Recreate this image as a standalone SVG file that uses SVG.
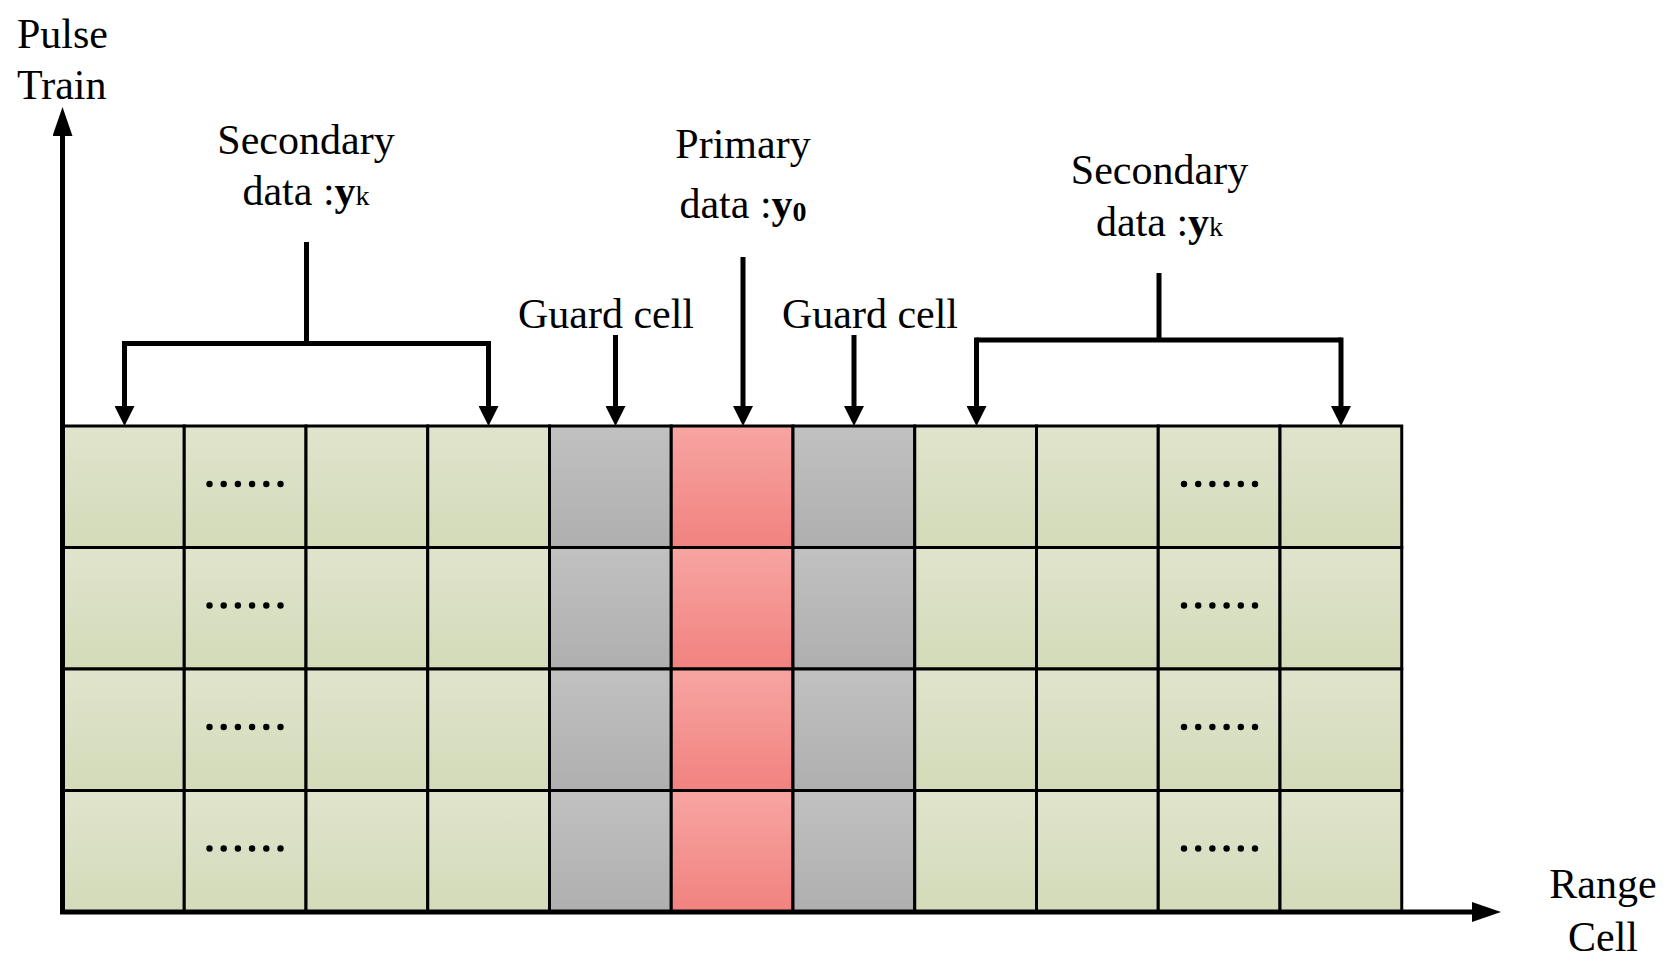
<svg xmlns="http://www.w3.org/2000/svg" width="1669" height="966" viewBox="0 0 1669 966">
<style>
.t{font-family:"Liberation Serif","Times New Roman",serif;font-size:42px;fill:#000}
.m{text-anchor:middle}
.g{fill:url(#gG)}
.s{fill:url(#gS)}
.p{fill:url(#gP)}
.cell{stroke:#000;stroke-width:3}
.ln{fill:none;stroke:#000;stroke-width:5}
.dot{fill:#000}
</style>
<defs>
<linearGradient id="gG" x1="0" y1="0" x2="0" y2="1"><stop offset="0" stop-color="#e0e4cc"/><stop offset="1" stop-color="#d3dbb9"/></linearGradient>
<linearGradient id="gS" x1="0" y1="0" x2="0" y2="1"><stop offset="0" stop-color="#c1c1c1"/><stop offset="1" stop-color="#afafaf"/></linearGradient>
<linearGradient id="gP" x1="0" y1="0" x2="0" y2="1"><stop offset="0" stop-color="#f7a5a2"/><stop offset="1" stop-color="#f1827f"/></linearGradient>
<marker id="ah" viewBox="0 0 20 20" refX="5" refY="10" markerWidth="20" markerHeight="20" markerUnits="userSpaceOnUse" orient="auto"><path d="M0,0 L20,10 L0,20 z" fill="#000"/></marker>
<marker id="ax" viewBox="0 0 29 20" refX="6" refY="10" markerWidth="29" markerHeight="20" markerUnits="userSpaceOnUse" orient="auto"><path d="M0,0 L29,10 L0,20 z" fill="#000"/></marker>
</defs>
<rect width="1669" height="966" fill="#fff"/>
<g id="grid">
<g id="col0"><rect class="cell g" x="62.5" y="426" width="121.75" height="121.5"/><rect class="cell g" x="62.5" y="547.5" width="121.75" height="121.5"/><rect class="cell g" x="62.5" y="669" width="121.75" height="121.5"/><rect class="cell g" x="62.5" y="790.5" width="121.75" height="121.5"/></g>
<g id="col1"><rect class="cell g" x="184.25" y="426" width="121.75" height="121.5"/><rect class="cell g" x="184.25" y="547.5" width="121.75" height="121.5"/><rect class="cell g" x="184.25" y="669" width="121.75" height="121.5"/><rect class="cell g" x="184.25" y="790.5" width="121.75" height="121.5"/></g>
<g id="col2"><rect class="cell g" x="306" y="426" width="121.75" height="121.5"/><rect class="cell g" x="306" y="547.5" width="121.75" height="121.5"/><rect class="cell g" x="306" y="669" width="121.75" height="121.5"/><rect class="cell g" x="306" y="790.5" width="121.75" height="121.5"/></g>
<g id="col3"><rect class="cell g" x="427.75" y="426" width="121.75" height="121.5"/><rect class="cell g" x="427.75" y="547.5" width="121.75" height="121.5"/><rect class="cell g" x="427.75" y="669" width="121.75" height="121.5"/><rect class="cell g" x="427.75" y="790.5" width="121.75" height="121.5"/></g>
<g id="col4"><rect class="cell s" x="549.5" y="426" width="121.75" height="121.5"/><rect class="cell s" x="549.5" y="547.5" width="121.75" height="121.5"/><rect class="cell s" x="549.5" y="669" width="121.75" height="121.5"/><rect class="cell s" x="549.5" y="790.5" width="121.75" height="121.5"/></g>
<g id="col5"><rect class="cell p" x="671.25" y="426" width="121.75" height="121.5"/><rect class="cell p" x="671.25" y="547.5" width="121.75" height="121.5"/><rect class="cell p" x="671.25" y="669" width="121.75" height="121.5"/><rect class="cell p" x="671.25" y="790.5" width="121.75" height="121.5"/></g>
<g id="col6"><rect class="cell s" x="793" y="426" width="121.75" height="121.5"/><rect class="cell s" x="793" y="547.5" width="121.75" height="121.5"/><rect class="cell s" x="793" y="669" width="121.75" height="121.5"/><rect class="cell s" x="793" y="790.5" width="121.75" height="121.5"/></g>
<g id="col7"><rect class="cell g" x="914.75" y="426" width="121.75" height="121.5"/><rect class="cell g" x="914.75" y="547.5" width="121.75" height="121.5"/><rect class="cell g" x="914.75" y="669" width="121.75" height="121.5"/><rect class="cell g" x="914.75" y="790.5" width="121.75" height="121.5"/></g>
<g id="col8"><rect class="cell g" x="1036.5" y="426" width="121.75" height="121.5"/><rect class="cell g" x="1036.5" y="547.5" width="121.75" height="121.5"/><rect class="cell g" x="1036.5" y="669" width="121.75" height="121.5"/><rect class="cell g" x="1036.5" y="790.5" width="121.75" height="121.5"/></g>
<g id="col9"><rect class="cell g" x="1158.25" y="426" width="121.75" height="121.5"/><rect class="cell g" x="1158.25" y="547.5" width="121.75" height="121.5"/><rect class="cell g" x="1158.25" y="669" width="121.75" height="121.5"/><rect class="cell g" x="1158.25" y="790.5" width="121.75" height="121.5"/></g>
<g id="col10"><rect class="cell g" x="1280" y="426" width="121.75" height="121.5"/><rect class="cell g" x="1280" y="547.5" width="121.75" height="121.5"/><rect class="cell g" x="1280" y="669" width="121.75" height="121.5"/><rect class="cell g" x="1280" y="790.5" width="121.75" height="121.5"/></g>
</g>
<g id="dots">
<g id="dots-left">
<g transform="translate(245,484)"><circle class="dot" cx="-35.5" r="3.2"/><circle class="dot" cx="-21.3" r="3.2"/><circle class="dot" cx="-7.1" r="3.2"/><circle class="dot" cx="7.1" r="3.2"/><circle class="dot" cx="21.3" r="3.2"/><circle class="dot" cx="35.5" r="3.2"/></g>
<g transform="translate(245,605.5)"><circle class="dot" cx="-35.5" r="3.2"/><circle class="dot" cx="-21.3" r="3.2"/><circle class="dot" cx="-7.1" r="3.2"/><circle class="dot" cx="7.1" r="3.2"/><circle class="dot" cx="21.3" r="3.2"/><circle class="dot" cx="35.5" r="3.2"/></g>
<g transform="translate(245,727)"><circle class="dot" cx="-35.5" r="3.2"/><circle class="dot" cx="-21.3" r="3.2"/><circle class="dot" cx="-7.1" r="3.2"/><circle class="dot" cx="7.1" r="3.2"/><circle class="dot" cx="21.3" r="3.2"/><circle class="dot" cx="35.5" r="3.2"/></g>
<g transform="translate(245,848.5)"><circle class="dot" cx="-35.5" r="3.2"/><circle class="dot" cx="-21.3" r="3.2"/><circle class="dot" cx="-7.1" r="3.2"/><circle class="dot" cx="7.1" r="3.2"/><circle class="dot" cx="21.3" r="3.2"/><circle class="dot" cx="35.5" r="3.2"/></g>
</g>
<g id="dots-right">
<g transform="translate(1219.5,484)"><circle class="dot" cx="-35.5" r="3.2"/><circle class="dot" cx="-21.3" r="3.2"/><circle class="dot" cx="-7.1" r="3.2"/><circle class="dot" cx="7.1" r="3.2"/><circle class="dot" cx="21.3" r="3.2"/><circle class="dot" cx="35.5" r="3.2"/></g>
<g transform="translate(1219.5,605.5)"><circle class="dot" cx="-35.5" r="3.2"/><circle class="dot" cx="-21.3" r="3.2"/><circle class="dot" cx="-7.1" r="3.2"/><circle class="dot" cx="7.1" r="3.2"/><circle class="dot" cx="21.3" r="3.2"/><circle class="dot" cx="35.5" r="3.2"/></g>
<g transform="translate(1219.5,727)"><circle class="dot" cx="-35.5" r="3.2"/><circle class="dot" cx="-21.3" r="3.2"/><circle class="dot" cx="-7.1" r="3.2"/><circle class="dot" cx="7.1" r="3.2"/><circle class="dot" cx="21.3" r="3.2"/><circle class="dot" cx="35.5" r="3.2"/></g>
<g transform="translate(1219.5,848.5)"><circle class="dot" cx="-35.5" r="3.2"/><circle class="dot" cx="-21.3" r="3.2"/><circle class="dot" cx="-7.1" r="3.2"/><circle class="dot" cx="7.1" r="3.2"/><circle class="dot" cx="21.3" r="3.2"/><circle class="dot" cx="35.5" r="3.2"/></g>
</g>
</g>
<g id="connectors">
<path id="y-axis" class="ln" d="M62.5,914 V130" marker-end="url(#ax)"/>
<path id="x-axis" class="ln" d="M60,912 H1478" marker-end="url(#ax)"/>
<path id="bracket-left" class="ln" d="M306.5,242 V343.5 M124.5,343.5 H488.5"/>
<path class="ln" d="M124.5,341 V411" marker-end="url(#ah)"/>
<path class="ln" d="M488.5,341 V411" marker-end="url(#ah)"/>
<path id="arrow-guard-left" class="ln" d="M615.5,335 V411" marker-end="url(#ah)"/>
<path id="arrow-primary" class="ln" d="M743,257 V411" marker-end="url(#ah)"/>
<path id="arrow-guard-right" class="ln" d="M854,335 V411" marker-end="url(#ah)"/>
<path id="bracket-right" class="ln" d="M1159,273 V340 M976.5,340 H1341"/>
<path class="ln" d="M976.5,337.5 V411" marker-end="url(#ah)"/>
<path class="ln" d="M1341,337.5 V411" marker-end="url(#ah)"/>
</g>
<g id="labels">
<text class="t" x="17" y="48">Pulse</text>
<text class="t" x="17" y="99">Train</text>
<text class="t m" x="306" y="154">Secondary</text>
<text class="t m" x="306" y="205">data :<tspan font-weight="bold">y</tspan><tspan font-size="28">k</tspan></text>
<text class="t m" x="743" y="158">Primary</text>
<text class="t m" x="743" y="218">data :<tspan font-weight="bold">y</tspan><tspan font-size="28" font-weight="bold" dy="3">0</tspan></text>
<text class="t m" x="606" y="328">Guard cell</text>
<text class="t m" x="870" y="328">Guard cell</text>
<text class="t m" x="1159.5" y="184">Secondary</text>
<text class="t m" x="1159.5" y="236">data :<tspan font-weight="bold">y</tspan><tspan font-size="28">k</tspan></text>
<text class="t m" x="1603" y="898">Range</text>
<text class="t m" x="1603" y="951">Cell</text>
</g>
</svg>
